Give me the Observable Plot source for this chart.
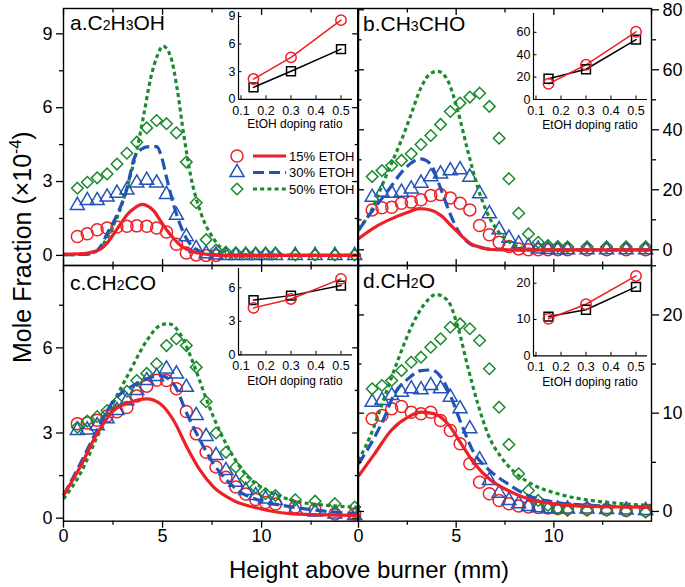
<!DOCTYPE html>
<html><head><meta charset="utf-8">
<script src="https://cdn.jsdelivr.net/npm/d3@7"></script>
<script src="https://cdn.jsdelivr.net/npm/@observablehq/plot@0.6"></script>
<style>
body{margin:0;background:#fff;}
#fig{position:relative;width:685px;height:587px;overflow:hidden;background:#fff;font-family:"Liberation Sans",Arial,Helvetica,sans-serif;}
#fig svg{position:absolute;}
</style></head><body><div id="fig"></div>
<script>
// ---------- data ----------
const series = ["15% ETOH", "30% ETOH", "50% ETOH"];
const hab = [0.7,1.2,1.7,2.2,2.7,3.2,3.7,4.2,4.7,5.2,5.7,6.2,6.7,7.2,7.7,8.2,8.7,9.2,9.7,10.2,10.7,11.7,12.7,13.7,14.7];

// a. C2H3OH (x1e-4)
const a15 = [0.77,0.88,1.04,1.11,1.15,1.18,1.2,1.18,1.11,0.95,0.45,0.1,0.02,0.0,0.0];
const a30 = [2.03,2.23,2.23,2.37,2.53,2.66,2.94,3.05,2.94,2.48,1.63,0.76,0.28,0.07,0.02,0,0,0,0,0,0,0,0,0,0];
const a50 = [2.73,2.97,3.15,3.31,3.71,4.15,4.6,5.18,5.48,5.35,4.98,3.79,2.14,0.64,0.22,0.13,0.1,0.08,0.08,0.08,0.08,0.02,0.02,0.02,0.02];
const aSim15 = [[0,0.05],[1,0.07],[1.5,0.15],[1.86,0.25],[2.2,0.5],[2.54,0.88],[2.9,1.3],[3.21,1.65],[3.55,1.9],[3.97,2.07],[4.3,1.98],[4.57,1.8],[4.9,1.4],[5.24,1.0],[5.57,0.68],[5.9,0.41],[6.25,0.24],[6.58,0.14],[7.25,0.04],[8,0],[15,0]];
const aSim30 = [[0,0.03],[1,0.04],[1.5,0.1],[1.86,0.34],[2.2,0.88],[2.7,1.65],[3.2,2.7],[3.55,3.9],[3.9,4.3],[4.3,4.42],[4.7,4.42],[4.95,4.0],[5.22,3.1],[5.56,2.05],[5.89,1.25],[6.23,0.65],[6.65,0.27],[7.1,0.09],[7.8,0.01],[15,0]];
const aSim50 = [[0,0.03],[1,0.04],[1.5,0.12],[2.0,0.45],[2.37,0.98],[2.87,1.9],[3.38,3.26],[3.72,4.35],[4.05,5.7],[4.4,7.2],[4.73,8.1],[5.02,8.5],[5.4,8.1],[5.74,6.75],[6.08,4.85],[6.42,3.23],[6.93,1.73],[7.6,0.65],[8.27,0.12],[9,0.02],[15,0]];

// b. CH3CHO
const b15 = [13.3,14,14.2,15.5,15.9,16.7,18.1,18.4,17.3,15.5,13.3,8.1,5,2.5,1.1,0.3,0,0,0,0,0,0,0,0,0];
const b30 = [17.5,19.2,18.9,19.2,20.3,22.2,24.4,25.3,26.4,26.7,24.2,18.7,12,6.7,3.9,2,1.1,0.3,0.1,0,0,0,0,0,0];
const b50 = [24.4,26.4,28.1,29.8,32,35.1,38.1,41.8,46.1,48.9,50.9,52.2,47.8,37.2,23.7,12.2,5.3,2.5,1.4,1.1,1.0,1.0,1.0,1.0,1.0];
const bSim15 = [[0,3.7],[0.83,7.5],[1.68,10.3],[2.53,12.5],[3.12,13.7],[3.72,13.2],[4.23,11.4],[4.74,8.1],[5.25,4.8],[5.76,2.0],[6.27,0.8],[6.78,0.1],[8,0],[15,0]];
const bSim30 = [[0,6.4],[0.47,10.9],[0.98,15.3],[1.6,20.5],[2.14,25.3],[2.65,28.7],[3.16,30.3],[3.67,28.7],[4.18,20.9],[4.69,12],[5.2,5.3],[5.71,2],[6.22,0.8],[6.9,0.1],[8,0],[15,0]];
const bSim50 = [[0,7.0],[0.66,13.1],[1.17,20.9],[1.68,28.7],[2.19,36.4],[2.7,45.3],[3.21,54.2],[3.72,58.9],[4.06,59.5],[4.57,56.4],[5.08,46.4],[5.59,33.1],[6.1,20.9],[6.61,12],[7.12,6.4],[7.63,3.1],[8.14,1.1],[8.64,0.3],[9.5,0],[15,0]];

// c. CH2CO
const c15 = [3.33,3.35,3.45,3.6,3.75,3.9,4.3,4.65,4.86,4.85,4.56,3.76,2.97,2.32,1.8,1.44,1.1,0.85,0.66,0.55,0.5,0.39,0.3,0.15,0.15];
const c30 = [3.09,3.11,3.26,3.5,3.79,4.14,4.5,4.85,4.99,5.26,5.08,4.61,3.62,2.88,2.21,1.68,1.27,0.98,0.8,0.68,0.62,0.3,0.22,0.15,0.1];
const c50 = [3.2,3.42,3.58,3.79,4.08,4.47,4.85,5.1,5.44,6.08,6.32,6.08,5.32,4.1,3.0,2.32,1.8,1.39,1.09,0.86,0.8,0.65,0.6,0.51,0.39];
const cSim15 = [[0,0.8],[0.84,1.8],[1.69,2.97],[2.53,3.79],[3.37,4.08],[4.21,4.2],[4.88,4.03],[5.56,3.44],[6.23,2.5],[6.9,1.68],[7.58,1.09],[8.59,0.62],[9.93,0.33],[11.6,0.15],[14.85,0.1]];
const cSim30 = [[0,0.8],[0.84,1.91],[1.69,3.09],[2.53,4.14],[3.37,4.61],[4.21,4.91],[4.88,5.02],[5.56,4.73],[6.23,3.68],[6.9,2.74],[7.58,1.91],[8.25,1.33],[8.92,0.92],[9.93,0.62],[11.6,0.39],[14.85,0.15]];
const cSim50 = [[0,0.68],[0.84,1.56],[1.69,2.85],[2.53,4.08],[3.37,5.2],[4.21,6.26],[4.88,6.79],[5.3,6.85],[5.89,6.49],[6.56,5.44],[7.24,4.14],[7.91,3.03],[8.59,2.15],[9.26,1.5],[10.27,0.98],[11.6,0.62],[13.3,0.45],[14.85,0.39]];

// d. CH2O
const d15 = [9.43,9.77,10.45,10.68,10.1,9.94,10.1,9.26,8.24,6.89,4.85,2.98,1.8,1.12,0.78,0.55,0.45,0.4,0.35,0.3,0.3,0.25,0.2,0.1,0.1];
const d30 = [11.12,11.29,11.8,12.14,12.48,12.38,12.82,12.48,11.63,10.45,8.41,5.26,3.15,1.86,1.12,0.78,0.51,0.37,0.27,0.25,0.25,0.25,0.2,0.15,0.1];
const d50 = [12.48,12.82,13.33,14.34,15.19,15.7,16.71,17.57,18.75,19.09,18.59,17.4,14.52,10.61,6.82,3.83,2.14,1.12,0.61,0.27,0.1,0.1,0.1,0.05,-0.07];
const dSim15 = [[0,3.59],[0.82,5.86],[1.67,8.24],[2.53,9.59],[3.21,10.1],[3.89,9.93],[4.57,8.92],[5.26,6.88],[5.94,4.85],[6.79,3.15],[7.65,2.14],[8.67,1.29],[10.03,0.78],[11.9,0.51],[15,0.44]];
const dSim30 = [[0,4.85],[0.82,7.56],[1.33,9.59],[1.84,11.97],[2.53,13.49],[3.21,14.34],[3.72,14.4],[4.23,13.66],[4.74,11.63],[5.26,8.92],[5.94,5.86],[6.62,4.34],[7.65,2.81],[8.67,1.63],[10.03,0.95],[11.9,0.61],[15,0.44]];
const dSim50 = [[0,5.19],[0.65,7.9],[1.33,11.63],[2.01,15.36],[2.7,18.75],[3.38,21.12],[3.98,22.07],[4.57,21.46],[5.09,18.75],[5.6,14.68],[6.11,10.95],[6.62,7.9],[7.3,5.53],[7.99,4.0],[9.01,2.64],[10.2,1.8],[11.9,1.12],[13.6,0.78],[15,0.61]];

// insets: peak mole fraction vs EtOH doping ratio
const ratio = [0.15, 0.3, 0.5];
const ratioTicks = [0.1, 0.2, 0.3, 0.4, 0.5];
const insA_red = [2.2, 4.55, 8.6],  insA_black = [1.3, 3.05, 5.45];
const insB_red = [14, 31, 60.5],    insB_black = [18.5, 27, 53.5];
const insC_red = [4.2, 5.0, 6.8],   insC_black = [4.9, 5.3, 6.2];
const insD_red = [10.2, 14.2, 22],  insD_black = [10.8, 12.7, 19];

const xMajor = [0, 5, 10, 15], xMinor = [2.5, 7.5, 12.5];

// ---------- styling ----------
const FONT = '"Liberation Sans", Arial, Helvetica, sans-serif';
const RED = "#ee2027", BLUE = "#2353b8", GREEN = "#1a8a2e";
const SYM = [
  {symbol: "circle", r: 6, color: RED},
  {symbol: "triangle", r: 5.2, color: BLUE},
  {symbol: "diamond2", r: 5.2, color: GREEN}
];
const LINESTYLE = [
  {stroke: RED, strokeWidth: 3.2},
  {stroke: BLUE, strokeWidth: 3.2, strokeDasharray: "11,5"},
  {stroke: GREEN, strokeWidth: 3.2, strokeDasharray: "4,3.2"}
];

const fig = document.getElementById("fig");
function place(svg, left, top) {
  svg.style.left = left + "px";
  svg.style.top = top + "px";
  fig.appendChild(svg);
}

const M = 45;
function panel({box, xDomain, yDomain, yMaj, yMin, labelY, labelX, exp, sim}) {
  const [x0, x1, y0, y1] = box;
  const inX = v => v >= xDomain[0] - 1e-9 && v <= xDomain[1] + 1e-9;
  const inY = v => v >= yDomain[0] && v <= yDomain[1];
  const xM = xMajor.filter(inX), xm = xMinor.filter(inX);
  const yM = yMaj.filter(inY), ym = yMin.filter(inY);
  const other = labelY === "left" ? "right" : "left";
  const sgn = other === "left" ? 1 : -1;
  const blank = () => "";
  const marks = [];
  // symbols
  exp.forEach((vals, k) => {
    const pts = vals.map((y, i) => ({x: hab[i], y})).filter(d => d.y != null);
    marks.push(Plot.dot(pts, {x: "x", y: "y", symbol: SYM[k].symbol, r: SYM[k].r,
      stroke: SYM[k].color, strokeWidth: 1.5, fill: "none"}));
  });
  // model lines
  [2, 1, 0].forEach(k => {
    marks.push(Plot.line(sim[k], {x: d => d[0], y: d => d[1], curve: "monotone-x",
      strokeLinecap: "butt", strokeLinejoin: "round", ...LINESTYLE[k]}));
  });
  marks.push(Plot.frame({stroke: "#000", strokeWidth: 1.4}));
  // labelled y axis (outward)
  marks.push(Plot.axisY(yM, {anchor: labelY, tickSize: 7, tickPadding: 4, fontSize: 18, label: null, strokeWidth: 1.3, tickFormat: d => String(d)}));
  marks.push(Plot.axisY(ym, {anchor: labelY, tickSize: 4, tickFormat: blank, label: null, strokeWidth: 1.3}));
  // inward ticks on other y side
  marks.push(Plot.axisY(yM, {anchor: other, tickSize: 6, dx: 6 * sgn, tickFormat: blank, label: null, strokeWidth: 1.3}));
  marks.push(Plot.axisY(ym, {anchor: other, tickSize: 3.5, dx: 3.5 * sgn, tickFormat: blank, label: null, strokeWidth: 1.3}));
  // top inward
  marks.push(Plot.axisX(xM, {anchor: "top", tickSize: 6, dy: 6, tickFormat: blank, label: null, strokeWidth: 1.3}));
  marks.push(Plot.axisX(xm, {anchor: "top", tickSize: 3.5, dy: 3.5, tickFormat: blank, label: null, strokeWidth: 1.3}));
  if (labelX) {
    marks.push(Plot.axisX(xM.filter(v => v < xDomain[1] - 0.3), {anchor: "bottom", tickSize: 7, tickPadding: 1.5, fontSize: 18, label: null, strokeWidth: 1.3}));
    marks.push(Plot.axisX(xm, {anchor: "bottom", tickSize: 4, tickFormat: blank, label: null, strokeWidth: 1.3}));
  } else {
    marks.push(Plot.axisX(xM, {anchor: "bottom", tickSize: 6, dy: -6, tickFormat: blank, label: null, strokeWidth: 1.3}));
    marks.push(Plot.axisX(xm, {anchor: "bottom", tickSize: 3.5, dy: -3.5, tickFormat: blank, label: null, strokeWidth: 1.3}));
  }
  const svg = Plot.plot({
    width: (x1 - x0) + 2 * M, height: (y1 - y0) + 2 * M,
    marginLeft: M, marginRight: M, marginTop: M, marginBottom: M,
    x: {domain: xDomain}, y: {domain: yDomain},
    style: {background: "transparent", fontFamily: FONT, color: "#000", overflow: "visible"},
    marks
  });
  place(svg, x0 - M, y0 - M);
}

function inset({box, yDomain, yTicks, red, black}) {
  const [x0, x1, y0, y1] = box;
  const xDomain = [0.09, 0.546];
  const blank = () => "";
  const rp = ratio.map((x, i) => ({x, y: red[i]}));
  const bp = ratio.map((x, i) => ({x, y: black[i]}));
  const m = 30;
  const svg = Plot.plot({
    width: (x1 - x0) + 2 * m, height: (y1 - y0) + 2 * m,
    marginLeft: m, marginRight: m, marginTop: m, marginBottom: m,
    x: {domain: xDomain}, y: {domain: yDomain},
    style: {background: "transparent", fontFamily: FONT, color: "#000", overflow: "visible"},
    marks: [
      Plot.ruleX([xDomain[0]], {stroke: "#000", strokeWidth: 1.2}),
      Plot.ruleY([yDomain[0]], {stroke: "#000", strokeWidth: 1.2}),
      Plot.axisY(yTicks, {anchor: "left", tickSize: 0, tickPadding: 3, fontSize: 12.5, label: null, tickFormat: d => String(d)}),
      Plot.axisY(yTicks, {anchor: "left", tickSize: 3.5, dx: 3.5, tickFormat: blank, label: null}),
      Plot.axisX(ratioTicks, {anchor: "bottom", tickSize: 0, tickPadding: 6.5, fontSize: 12.5, label: null, tickFormat: d => d.toFixed(1)}),
      Plot.axisX(ratioTicks, {anchor: "bottom", tickSize: 3.5, dy: -3.5, tickFormat: blank, label: null}),
      Plot.line(bp, {x: "x", y: "y", stroke: "#000", strokeWidth: 1.5}),
      Plot.line(rp, {x: "x", y: "y", stroke: RED, strokeWidth: 1.5}),
      Plot.dot(bp, {x: "x", y: "y", symbol: "square", r: 5, stroke: "#000", strokeWidth: 1.5, fill: "none"}),
      Plot.dot(rp, {x: "x", y: "y", symbol: "circle", r: 5.2, stroke: RED, strokeWidth: 1.5, fill: "none"})
    ]
  });
  place(svg, x0 - m, y0 - m);
}

// ---------- main panels ----------
panel({box: [63.3, 357.5, 8, 265], xDomain: [0, 14.85], yDomain: [-0.41, 10.03],
  yMaj: [0, 3, 6, 9], yMin: [1.5, 4.5, 7.5], labelY: "left", labelX: false,
  exp: [a15, a30, a50], sim: [aSim15, aSim30, aSim50]});
panel({box: [357.5, 650.5, 8, 265], xDomain: [0, 15], yDomain: [-5.23, 80.43],
  yMaj: [0, 20, 40, 60, 80], yMin: [10, 30, 50, 70], labelY: "right", labelX: false,
  exp: [b15, b30, b50], sim: [bSim15, bSim30, bSim50]});
panel({box: [63.3, 357.5, 265, 520.7], xDomain: [0, 14.85], yDomain: [-0.106, 8.9],
  yMaj: [0, 3, 6], yMin: [1.5, 4.5, 7.5], labelY: "left", labelX: true,
  exp: [c15, c30, c50], sim: [cSim15, cSim30, cSim50]});
panel({box: [357.5, 650.5, 265, 520.7], xDomain: [0, 15], yDomain: [-0.99, 25.03],
  yMaj: [0, 10, 20], yMin: [5, 15, 25], labelY: "right", labelX: true,
  exp: [d15, d30, d50], sim: [dSim15, dSim30, dSim50]});

// ---------- insets ----------
inset({box: [238, 352, 11.5, 98.3], yDomain: [0, 9.43], yTicks: [0, 3, 6, 9], red: insA_red, black: insA_black});
inset({box: [533, 647, 13, 99], yDomain: [0, 76.8], yTicks: [0, 20, 40, 60], red: insB_red, black: insB_black});
inset({box: [238, 352, 268, 354.3], yDomain: [0, 7.73], yTicks: [0, 3, 6], red: insC_red, black: insC_black});
inset({box: [533, 647, 266, 355.3], yDomain: [0, 24.6], yTicks: [0, 10, 20], red: insD_red, black: insD_black});

// ---------- text overlay: titles, panel labels, legend ----------
const ov = d3.create("svg").attr("width", 685).attr("height", 587)
  .style("left", "0px").style("top", "0px").style("pointer-events", "none")
  .attr("font-family", FONT).attr("fill", "#000");

const yt = ov.append("text").attr("transform", "translate(31,363) rotate(-90)").attr("font-size", 25);
yt.append("tspan").text("Mole Fraction (×10");
yt.append("tspan").attr("font-size", 16).attr("dy", -10).text("-4");
yt.append("tspan").attr("dy", 10).text(")");

ov.append("text").attr("x", 229).attr("y", 578).attr("font-size", 24).text("Height above burner (mm)");

const titles = [
  {x: 70, y: 30, parts: [["a.C", 0], ["2", 1], ["H", 0], ["3", 1], ["OH", 0]]},
  {x: 363, y: 31, parts: [["b.CH", 0], ["3", 1], ["CHO", 0]]},
  {x: 70, y: 290, parts: [["c.CH", 0], ["2", 1], ["CO", 0]]},
  {x: 363, y: 288, parts: [["d.CH", 0], ["2", 1], ["O", 0]]}
];
titles.forEach(t => {
  const el = ov.append("text").attr("x", t.x).attr("y", t.y).attr("font-size", 21);
  t.parts.forEach(([s, sub]) => el.append("tspan").attr("font-size", sub ? 14 : 21).text(s));
});

[[295, 128], [590, 128.5], [295, 385], [590, 386]].forEach(([x, y]) =>
  ov.append("text").attr("x", x).attr("y", y).attr("font-size", 12).attr("text-anchor", "middle").text("EtOH doping ratio"));

// legend
const lg = ov.append("g");
series.forEach((name, k) => {
  const cy = 156 + k * 16.5;
  lg.append("path")
    .attr("d", d3.symbol(k === 0 ? d3.symbolCircle : k === 1 ? d3.symbolTriangle : d3.symbolDiamond2, Math.PI * SYM[k].r * SYM[k].r)())
    .attr("transform", `translate(237,${cy})`)
    .attr("fill", "none").attr("stroke", SYM[k].color).attr("stroke-width", 1.5);
  lg.append("line").attr("x1", 253).attr("x2", 286).attr("y1", cy).attr("y2", cy)
    .attr("stroke", LINESTYLE[k].stroke).attr("stroke-width", 3.2)
    .attr("stroke-linecap", "butt")
    .attr("stroke-dasharray", LINESTYLE[k].strokeDasharray || null);
  lg.append("text").attr("x", 289).attr("y", cy + 4.8).attr("font-size", 13).text(name);
});
fig.appendChild(ov.node());
</script></body></html>
